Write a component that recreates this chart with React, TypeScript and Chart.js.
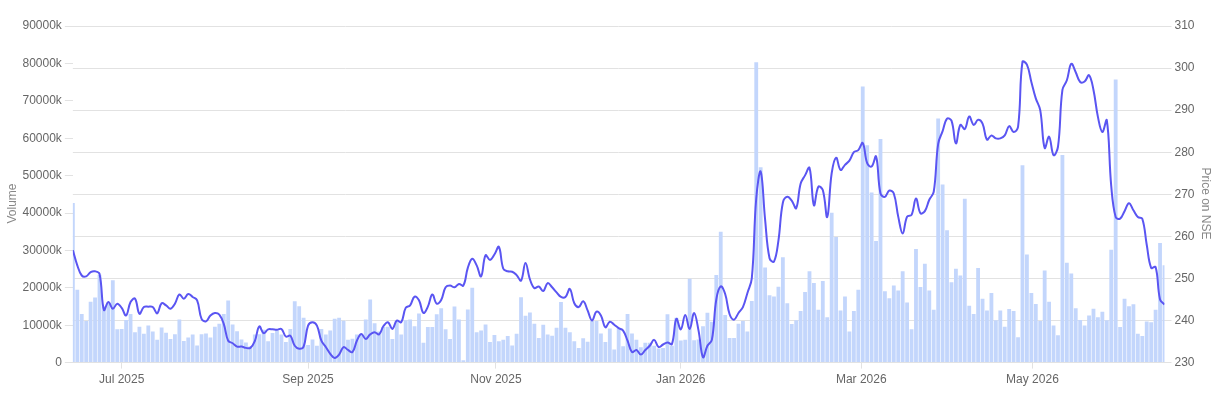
import React, { useEffect, useRef } from 'react';
import { Chart, registerables } from 'chart.js';

Chart.register(...registerables);

// Trading calendar (NSE): weekdays between start and end, minus market holidays
const startDate = '2025-06-16';
const endDate = '2026-06-15';
const marketHolidays = [
  '2025-08-15', '2025-08-27', '2025-10-02', '2025-10-22', '2025-11-05', '2025-12-25',
  '2026-01-26', '2026-03-03', '2026-03-26', '2026-03-31', '2026-04-03', '2026-04-14',
  '2026-05-01', '2026-05-28',
];

// Month tick labels on the time axis
const monthTickDates = ['2025-07-01', '2025-09-01', '2025-11-01', '2026-01-01', '2026-03-01', '2026-05-01'];
const monthTickLabels = ['Jul 2025', 'Sep 2025', 'Nov 2025', 'Jan 2026', 'Mar 2026', 'May 2026'];

// Axis titles
const leftTitle = 'Volume';
const rightTitle = 'Price on NSE';

// Daily volume (in thousands of shares)
const volume = [
  42700, 19500, 13000, 11100, 16300, 17400, 23500, 15000, 16000, 22000,
  8900, 9000, 11400, 13000, 8100, 9600, 7700, 9900, 8300, 6100,
  9400, 8000, 6300, 7600, 11500, 5800, 6700, 7500, 4600, 7600,
  7800, 6700, 9600, 10400, 13000, 16600, 10200, 8400, 6200, 5400,
  4400, 7500, 7600, 8800, 5700, 7900, 8600, 7500, 5500, 9000,
  16400, 15100, 12000, 4700, 6200, 4500, 9000, 7500, 8600, 11700,
  12000, 11200, 6100, 6400, 7500, 7700, 11500, 16900, 10500, 8300,
  9500, 9600, 6300, 11400, 7500, 11300, 11500, 9700, 13100, 5300,
  9500, 9500, 12900, 14500, 8900, 6300, 15000, 11500, 600, 14200,
  20000, 8100, 8600, 10200, 5500, 7400, 5700, 6100, 7100, 4600,
  7700, 17500, 12500, 13400, 10400, 6600, 10100, 7500, 7200, 9300,
  16200, 9300, 8100, 5700, 3900, 6500, 5600, 11100, 11100, 7800,
  5500, 9100, 3500, 9300, 4400, 13000, 7800, 6100, 4100, 5300,
  5300, 4500, 3800, 3900, 12900, 4500, 12000, 5900, 6100, 22400,
  6000, 6200, 9700, 13300, 10900, 23400, 35000, 12700, 6600, 6600,
  10400, 11100, 8300, 16500, 80300, 52200, 25400, 18000, 17700, 20300,
  28200, 15900, 10300, 11300, 13800, 18900, 24400, 21300, 14100, 21800,
  12100, 40100, 33600, 13900, 17700, 8300, 13800, 19500, 73800, 58100,
  45500, 32500, 59800, 19100, 17200, 20600, 19300, 24400, 16100, 8900,
  30400, 20200, 26400, 19300, 14100, 65300, 47600, 35400, 21500, 25100,
  23300, 43800, 15200, 13000, 25300, 17100, 13900, 18600, 11300, 13900,
  9600, 14300, 13800, 6800, 52800, 28900, 18600, 15700, 11100, 24600,
  16300, 9900, 7300, 55500, 26700, 23800, 14500, 11400, 9900, 12600,
  14400, 12100, 13600, 11300, 30200, 75700, 9500, 17100, 15100, 15600,
  7700, 7100, 11000, 10800, 14100, 32000, 26000,
];

// Daily closing price on NSE
const price = [
  256.7, 253.1, 250.7, 250.5, 251.5, 251.7, 251.1, 242.5, 244.4, 242.8,
  244.0, 243.0, 241.2, 244.4, 245.2, 241.6, 243.2, 243.3, 243.2, 241.7,
  244.1, 243.6, 242.8, 244.0, 246.2, 245.2, 246.3, 245.6, 244.8, 240.4,
  239.8, 241.2, 241.8, 241.4, 239.2, 235.2, 234.6, 233.8, 233.8, 233.5,
  233.5, 235.1, 238.6, 237.0, 237.9, 237.9, 237.8, 238.0, 236.2, 236.4,
  234.0, 233.3, 233.8, 238.8, 239.6, 238.8, 235.2, 233.7, 232.1, 231.1,
  231.9, 233.7, 233.0, 232.5, 235.2, 236.8, 235.6, 236.7, 237.2, 236.7,
  238.7, 239.6, 238.0, 240.0, 239.6, 243.0, 243.6, 245.7, 244.8, 241.8,
  243.3, 246.2, 244.0, 244.9, 247.9, 248.3, 247.9, 248.7, 248.3, 252.5,
  254.7, 253.1, 250.5, 255.5, 254.4, 255.7, 257.5, 252.3, 251.7, 251.6,
  250.8, 249.5, 253.7, 249.8, 247.7, 248.1, 247.0, 248.9, 247.9, 246.7,
  245.6, 245.6, 247.5, 244.1, 243.2, 244.6, 242.4, 240.0, 242.1, 241.2,
  238.4, 239.7, 239.0, 238.2, 237.6, 235.2, 232.5, 233.0, 231.9, 233.0,
  234.0, 235.4, 233.7, 234.3, 234.8, 234.4, 240.4, 237.9, 241.3, 238.0,
  241.8, 237.6, 231.3, 234.0, 235.4, 245.0, 248.1, 246.3, 241.5, 240.2,
  241.8, 243.2, 246.5, 250.0, 269.0, 275.4, 264.0, 254.8, 254.0, 259.0,
  268.0, 269.4, 268.5, 266.7, 272.5, 274.5, 276.3, 267.4, 271.8, 271.0,
  264.6, 275.0, 278.7, 275.8, 277.0, 278.0, 280.0, 280.5, 282.2, 277.4,
  276.6, 279.0, 270.2, 269.4, 270.9, 270.2, 264.7, 260.7, 264.7, 265.1,
  269.0, 265.5, 266.0, 268.7, 270.6, 282.0, 285.0, 288.0, 287.5, 282.1,
  286.5, 285.5, 288.5, 286.5, 287.7, 286.8, 283.0, 284.0, 283.3, 283.3,
  284.0, 286.2, 284.8, 286.0, 301.5, 300.8, 296.7, 292.8, 290.0, 281.0,
  283.7, 279.3, 281.3, 294.8, 297.1, 301.0, 299.0, 296.7, 296.8, 298.3,
  294.8, 288.4, 284.8, 287.6, 272.0, 264.6, 264.2, 266.0, 267.9, 266.2,
  264.6, 264.2, 258.0, 252.5, 252.7, 245.0, 243.8,
];

const DAY = 86400000;
const toUTC = (s: string) => {
  const [y, m, d] = s.split('-').map(Number);
  return Date.UTC(y, m - 1, d);
};

function buildTradingDays(): number[] {
  const hol = new Set(marketHolidays.map(toUTC));
  const out: number[] = [];
  for (let t = toUTC(startDate); t <= toUTC(endDate); t += DAY) {
    const wd = new Date(t).getUTCDay();
    if (wd === 0 || wd === 6 || hol.has(t)) continue;
    out.push(t);
  }
  return out;
}

// fractional position of a calendar date along the trading-day index axis
function datePosition(days: number[], t: number): number {
  for (let i = 0; i < days.length - 1; i++) {
    if (t >= days[i] && t <= days[i + 1]) {
      return i + (t - days[i]) / (days[i + 1] - days[i]);
    }
  }
  return t < days[0] ? 0 : days.length - 1;
}

const FONT = 'Arial, "Liberation Sans", Helvetica, sans-serif';

// Axis titles centred on the canvas height (as in the reference)
const axisTitlePlugin = {
  id: 'axisTitles',
  afterDraw(chart: any) {
    const ctx = chart.ctx;
    const h = chart.height;
    ctx.save();
    ctx.font = `12px ${FONT}`;
    ctx.fillStyle = '#888';
    ctx.textAlign = 'center';
    ctx.textBaseline = 'middle';
    ctx.save();
    ctx.translate(12.5, h / 2);
    ctx.rotate(-Math.PI / 2);
    ctx.fillText(leftTitle, 0, 0);
    ctx.restore();
    ctx.save();
    ctx.translate(chart.width - 22, h / 2);
    ctx.rotate(Math.PI / 2);
    ctx.fillText(rightTitle, 0, 0);
    ctx.restore();
    ctx.restore();
  },
};

export default function App() {
  const ref = useRef<HTMLCanvasElement>(null);

  useEffect(() => {
    document.body.style.margin = '0';
    const days = buildTradingDays();
    const n = Math.min(days.length, volume.length, price.length);
    const tickPositions = monthTickDates.map((d) => datePosition(days, toUTC(d)));

    Chart.defaults.font.family = FONT;
    Chart.defaults.font.size = 12;
    Chart.defaults.color = '#666';

    const gridColor = '#e2e2e2';

    const chart = new Chart(ref.current!, {
      type: 'bar',
      data: {
        datasets: [
          {
            type: 'line',
            label: 'Price on NSE',
            data: price.slice(0, n).map((p, i) => ({ x: i, y: p })),
            yAxisID: 'y1',
            borderColor: '#5a55f2',
            backgroundColor: '#5a55f2',
            borderWidth: 2,
            pointRadius: 0,
            tension: 0.4,
            fill: false,
            order: 0,
          } as any,
          {
            type: 'bar',
            label: 'Volume',
            data: volume.slice(0, n).map((v, i) => ({ x: i, y: v })),
            yAxisID: 'y',
            backgroundColor: '#c3d6fc',
            borderWidth: 0,
            barPercentage: 0.86,
            categoryPercentage: 1,
            clip: 0,
            order: 1,
          } as any,
        ],
      },
      options: {
        animation: false,
        responsive: true,
        maintainAspectRatio: false,
        layout: { padding: { top: 26, right: 29.5, bottom: 16, left: 19.5 } },
        plugins: { legend: { display: false }, tooltip: { enabled: false } },
        scales: {
          x: {
            type: 'linear',
            min: 0,
            max: n - 1,
            offset: false,
            afterBuildTicks: (scale: any) => {
              scale.ticks = tickPositions.map((v) => ({ value: v }));
            },
            ticks: {
              autoSkip: false,
              maxRotation: 0,
              padding: 4,
              color: '#666',
              callback: (_v: any, idx: number) => monthTickLabels[idx],
            },
            grid: { offset: false, drawOnChartArea: false, drawTicks: true, tickLength: 6, color: gridColor },
            border: { display: true, color: gridColor },
          },
          y: {
            type: 'linear',
            position: 'left',
            min: 0,
            max: 90000,
            ticks: {
              stepSize: 10000,
              color: '#666',
              callback: (v: any) => (v === 0 ? '0' : `${v}k`),
            },
            grid: { drawOnChartArea: false, drawTicks: true, tickLength: 8, color: gridColor },
            border: { display: false },
          },
          y1: {
            type: 'linear',
            position: 'right',
            min: 230,
            max: 310,
            ticks: { stepSize: 10, color: '#666' },
            grid: { drawOnChartArea: true, drawTicks: true, tickLength: 7, color: gridColor },
            border: { display: false },
          },
        },
      },
      plugins: [axisTitlePlugin],
    });
    return () => chart.destroy();
  }, []);

  return (
    <div style={{ position: 'relative', width: 1227, height: 407 }}>
      <canvas ref={ref} />
    </div>
  );
}
